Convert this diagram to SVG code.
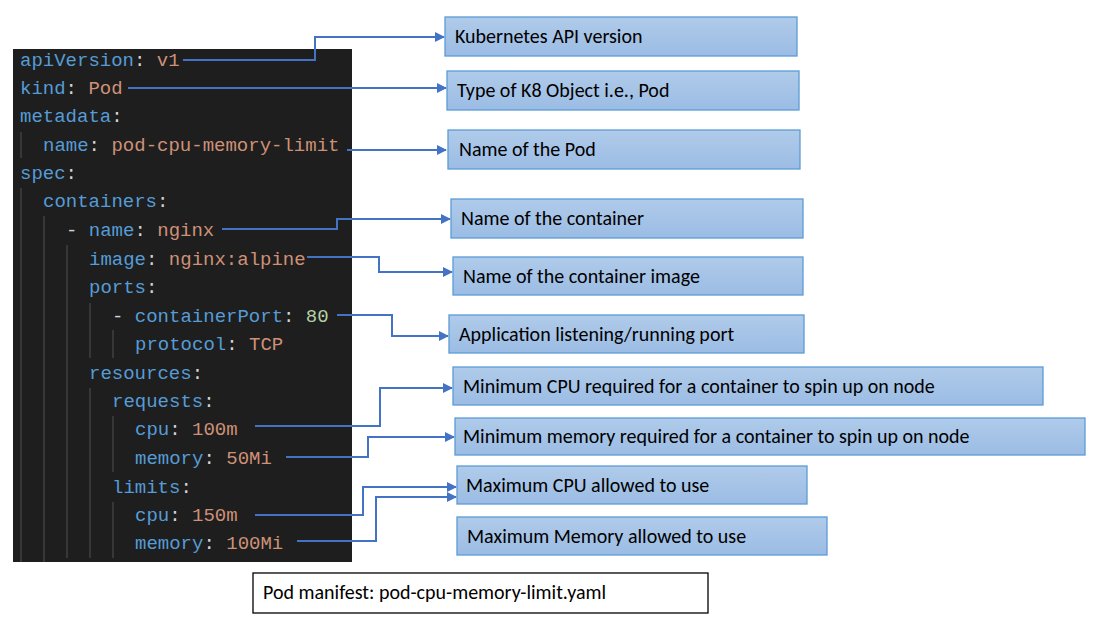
<svg xmlns="http://www.w3.org/2000/svg" width="1101" height="623" viewBox="0 0 1101 623">
<style>
.c{font-family:"Liberation Mono","DejaVu Sans Mono",monospace;font-size:19px}
.k{fill:#569cd6}.v{fill:#ce9178}.n{fill:#b5cea8}.p{fill:#d4d4d4}
.g{stroke:#404040;stroke-width:1.5}
.b{fill:url(#gr);stroke:#5b9bd5;stroke-width:1.3}
.t{font-family:"Calibri","Carlito","Liberation Sans",sans-serif;font-size:20px;fill:#000}
.l{fill:none;stroke:#4472c4;stroke-width:2;marker-end:url(#a)}
</style>
<defs>
<linearGradient id="gr" x1="0" y1="0" x2="0" y2="1"><stop offset="0" stop-color="#b0cbea"/><stop offset="1" stop-color="#9bbce4"/></linearGradient>
<marker id="a" viewBox="0 0 10 10" refX="9" refY="5" markerWidth="5" markerHeight="5" orient="auto"><path d="M0,0L10,5L0,10z" fill="#4472c4"/></marker>
</defs>
<rect width="1101" height="623" fill="#fff"/>
<g id="code">
<rect x="13" y="49" width="339" height="513" fill="#1e1e1e"/>
<g class="g">
<line x1="21" y1="132" x2="21" y2="158"/>
<line x1="21" y1="188" x2="21" y2="562"/>
<line x1="44" y1="216" x2="44" y2="562"/>
<line x1="67" y1="245" x2="67" y2="558"/>
<line x1="90" y1="303" x2="90" y2="358"/>
<line x1="113" y1="330" x2="113" y2="358"/>
<line x1="90" y1="388" x2="90" y2="558"/>
<line x1="113" y1="416" x2="113" y2="472"/>
<line x1="113" y1="502" x2="113" y2="558"/>
</g>
<g class="c">
<text x="20" y="66"><tspan class="k">apiVersion</tspan><tspan class="p">: </tspan><tspan class="v">v1</tspan></text>
<text x="20" y="94"><tspan class="k">kind</tspan><tspan class="p">: </tspan><tspan class="v">Pod</tspan></text>
<text x="20" y="122"><tspan class="k">metadata</tspan><tspan class="p">:</tspan></text>
<text x="43" y="151"><tspan class="k">name</tspan><tspan class="p">: </tspan><tspan class="v">pod-cpu-memory-limit</tspan></text>
<text x="20" y="179"><tspan class="k">spec</tspan><tspan class="p">:</tspan></text>
<text x="43" y="207"><tspan class="k">containers</tspan><tspan class="p">:</tspan></text>
<text x="66" y="236"><tspan class="p">- </tspan><tspan class="k">name</tspan><tspan class="p">: </tspan><tspan class="v">nginx</tspan></text>
<text x="89" y="265"><tspan class="k">image</tspan><tspan class="p">: </tspan><tspan class="v">nginx:alpine</tspan></text>
<text x="89" y="293"><tspan class="k">ports</tspan><tspan class="p">:</tspan></text>
<text x="112" y="322"><tspan class="p">- </tspan><tspan class="k">containerPort</tspan><tspan class="p">: </tspan><tspan class="n">80</tspan></text>
<text x="135" y="350"><tspan class="k">protocol</tspan><tspan class="p">: </tspan><tspan class="v">TCP</tspan></text>
<text x="89" y="379"><tspan class="k">resources</tspan><tspan class="p">:</tspan></text>
<text x="112" y="407"><tspan class="k">requests</tspan><tspan class="p">:</tspan></text>
<text x="135" y="435"><tspan class="k">cpu</tspan><tspan class="p">: </tspan><tspan class="v">100m</tspan></text>
<text x="135" y="464"><tspan class="k">memory</tspan><tspan class="p">: </tspan><tspan class="v">50Mi</tspan></text>
<text x="112" y="493"><tspan class="k">limits</tspan><tspan class="p">:</tspan></text>
<text x="135" y="521"><tspan class="k">cpu</tspan><tspan class="p">: </tspan><tspan class="v">150m</tspan></text>
<text x="135" y="549"><tspan class="k">memory</tspan><tspan class="p">: </tspan><tspan class="v">100Mi</tspan></text>
</g>
</g>
<g id="connectors">
<path class="l" d="M183,60H315V37H444"/>
<path class="l" d="M128,88H446"/>
<path class="l" d="M347,150H446"/>
<path class="l" d="M222,229H337V219H450"/>
<path class="l" d="M307,257H379V272H452"/>
<path class="l" d="M337,315H392V336H448"/>
<path class="l" d="M255,426H380V388H452"/>
<path class="l" d="M286,457H368V437H454"/>
<path class="l" d="M255,515H363V487H456"/>
<path class="l" d="M297,541H376V497H456"/>
</g>
<g id="n1"><rect class="b" x="445" y="17" width="352" height="39"/><text class="t" x="455" y="43">Kubernetes API version</text></g>
<g id="n2"><rect class="b" x="447" y="71" width="352" height="39"/><text class="t" x="457" y="97">Type of K8 Object i.e., Pod</text></g>
<g id="n3"><rect class="b" x="448" y="130" width="352" height="39"/><text class="t" x="459" y="156">Name of the Pod</text></g>
<g id="n4"><rect class="b" x="451" y="199" width="352" height="39"/><text class="t" x="461" y="225">Name of the container</text></g>
<g id="n5"><rect class="b" x="453" y="257" width="350" height="38"/><text class="t" x="463" y="283">Name of the container image</text></g>
<g id="n6"><rect class="b" x="449" y="315" width="355" height="38"/><text class="t" x="459" y="341">Application listening/running port</text></g>
<g id="n7"><rect class="b" x="453" y="367" width="590" height="38"/><text class="t" x="463" y="393">Minimum CPU required for a container to spin up on node</text></g>
<g id="n8"><rect class="b" x="455" y="418" width="630" height="37"/><text class="t" x="463" y="443">Minimum memory required for a container to spin up on node</text></g>
<g id="n9"><rect class="b" x="457" y="466" width="350" height="38"/><text class="t" x="466" y="492">Maximum CPU allowed to use</text></g>
<g id="n10"><rect class="b" x="457" y="517" width="370" height="38"/><text class="t" x="467" y="543">Maximum Memory allowed to use</text></g>
<g id="caption"><rect x="253" y="573" width="455" height="40" fill="#fff" stroke="#000" stroke-width="1.3"/><text class="t" x="263" y="599">Pod manifest: pod-cpu-memory-limit.yaml</text></g>
</svg>
